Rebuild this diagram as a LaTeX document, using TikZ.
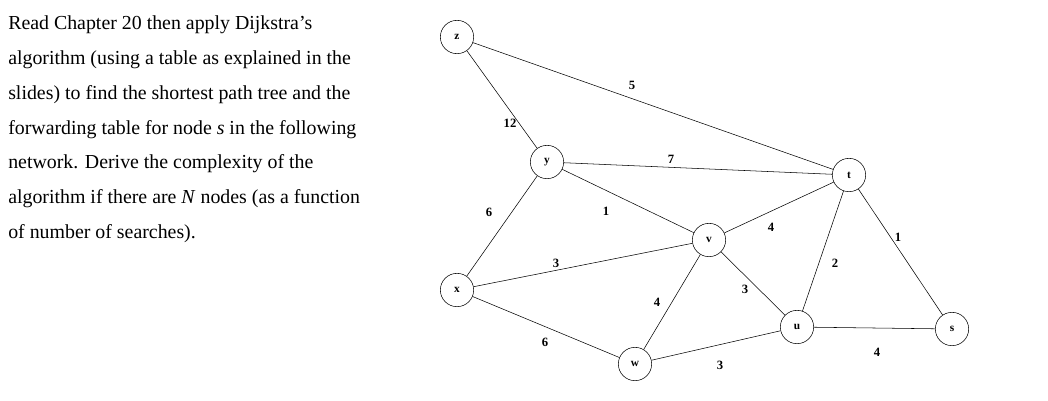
\documentclass[tikz,border=0pt]{standalone}
\usepackage{fontspec}
\setmainfont{Liberation Serif}
\begin{document}
\begin{tikzpicture}[x=0.75pt,y=-0.75pt,
  vert/.style={circle,draw,thin,fill=white,minimum size=25pt,inner sep=0pt,font=\bfseries\fontsize{8.5}{9}\selectfont},
  lbl/.style={font=\bfseries\fontsize{9.5}{10}\selectfont,inner sep=0pt},
  txt/.style={anchor=west,inner sep=0pt,font=\fontsize{14.9}{15}\selectfont},
  edge/.style={thin}]
\useasboundingbox (0,0) rectangle (1048,400);
\node[txt] (l1) at (8,25) {Read Chapter 20 then apply Dijkstra’s};
\node[txt] (l2) at (8,60) {algorithm (using a table as explained in the};
\node[txt] (l3) at (8,95) {slides) to find the shortest path tree and the};
\node[txt] (l4) at (8,130) {forwarding table for node \textit{s} in the following};
\node[txt] (l5) at (8,164) {network. Derive the complexity of the};
\node[txt] (l6) at (8,199) {algorithm if there are \textit{N} nodes (as a function};
\node[txt] (l7) at (8,234) {of number of searches).};
\node[vert] (z) at (457,37) {z};
\node[vert] (y) at (547,162) {y};
\node[vert] (t) at (849,175) {t};
\node[vert] (v) at (709,240) {v};
\node[vert] (x) at (457,290) {x};
\node[vert] (u) at (797,327) {u};
\node[vert] (s) at (952,329) {s};
\node[vert] (w) at (635,364) {w};
\draw[edge] (z)--(t) (z)--(y) (y)--(t) (y)--(v) (y)--(x) (x)--(v) (v)--(t)
 (t)--(u) (t)--(s) (v)--(w) (v)--(u) (x)--(w) (w)--(u) (u)--(s);
\node[lbl] (e1) at (632,85) {5};
\node[lbl] (e2) at (510,123) {12};
\node[lbl] (e3) at (671,159) {7};
\node[lbl] (e4) at (606,211) {1};
\node[lbl] (e5) at (489,212) {6};
\node[lbl] (e6) at (556,263) {3};
\node[lbl] (e7) at (771,227) {4};
\node[lbl] (e8) at (835,263) {2};
\node[lbl] (e9) at (898,237) {1};
\node[lbl] (e10) at (657,302) {4};
\node[lbl] (e11) at (745,289) {3};
\node[lbl] (e12) at (545,342) {6};
\node[lbl] (e13) at (720,365) {3};
\node[lbl] (e14) at (877,352) {4};
\end{tikzpicture}
\end{document}
